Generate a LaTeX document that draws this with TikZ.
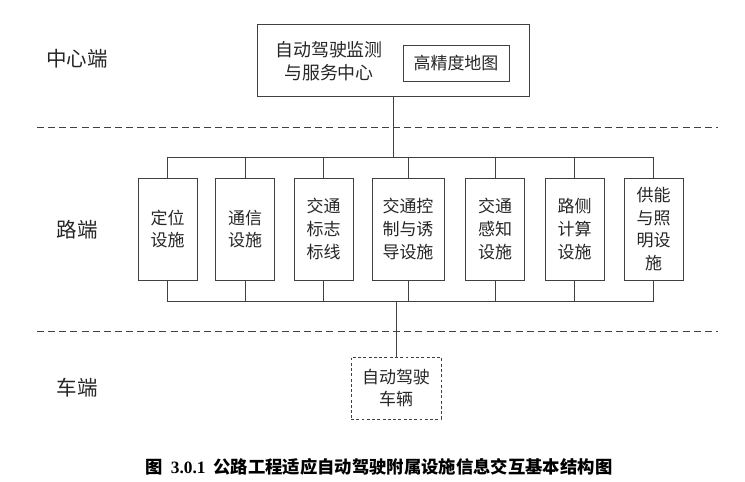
\documentclass[tikz,border=0pt]{standalone}
\usepackage{fontspec}
\setmainfont{Noto Sans CJK SC}
\newfontfamily\numfont{Liberation Serif}
\usepackage{tikz}

\tikzset{
	box/.style={draw=black!75, line width=0.8pt, inner sep=0pt, align=center,
		minimum width=1.77cm, minimum height=3.06cm},
	link/.style={draw=black!75, line width=0.8pt},
	sepline/.style={draw=black!75, line width=0.8pt, dash pattern=on 6pt off 3.5pt},
	tag/.style={font=\fontsize{17.5}{20}\selectfont}
}

\begin{document}
\begin{tikzpicture}[x=0.03cm, y=-0.03cm, every node/.style={text=black!85, align=center, font=\fontsize{14.5}{19.5}\selectfont}]
		\useasboundingbox (0,0) rectangle (745,482);

		% levels
		\node[tag] (L1) at (77,59) {中心端};
		\node[tag] (L2) at (77,230) {路端};
		\node[tag] (L3) at (77,388) {车端};

		\coordinate (S1a) at (37,127);
		\coordinate (S1b) at (718,127);
		\coordinate (S2a) at (37,331);
		\coordinate (S2b) at (718,331);
		\draw[sepline] (S1a) -- (S1b);
		\draw[sepline] (S2a) -- (S2b);

		% center
		\node[box, minimum width=8.16cm, minimum height=2.16cm] (hub) at (393,60) {};
		\node[font=\fontsize{15.3}{20}\selectfont] (hubtxt) at (329,61) {自动驾驶监测\\与服务中心};
		\node[box, minimum width=3.18cm, minimum height=1.08cm] (map) at (456,63) {高精度地图};

		% road side
		\node[box] (R1) at (167.5,229) {定位\\设施};
		\node[box] (R2) at (245,229) {通信\\设施};
		\node[box] (R3) at (323.5,229) {交通\\标志\\标线};
		\node[box, minimum width=2.16cm] (R4) at (408,229) {交通控\\制与诱\\导设施};
		\node[box] (R5) at (495,229) {交通\\感知\\设施};
		\node[box] (R6) at (574.5,229) {路侧\\计算\\设施};
		\node[box] (R7) at (653.5,229) {供能\\与照\\明设\\施};

		\coordinate (TJ) at (393,157);
		\coordinate (BJ) at (396,301);

		\draw[link] (hub.south) -- (TJ);
		\draw[link] (R1.north) -- (R1.north |- TJ) -- (R7.north |- TJ) -- (R7.north);
		\draw[link] (R1.south) -- (R1.south |- BJ) -- (R7.south |- BJ) -- (R7.south);
		\foreach \r in {R2,R3,R4,R5,R6} {
			\draw[link] (\r.north) -- (\r.north |- TJ);
			\draw[link] (\r.south) -- (\r.south |- BJ);
		}

		% vehicle
		\node[box, minimum width=2.7cm, minimum height=1.86cm, dash pattern=on 2.5pt off 2pt] (car) at (396,388) {自动驾驶\\车辆};
		\draw[link] (BJ) -- (car.north);

		% caption
		\node[font=\fontsize{14.8}{16}\selectfont\bfseries, text=black] (cap) at (379,467) {图\ \ {\numfont 3.0.1}\ \ 公路工程适应自动驾驶附属设施信息交互基本结构图};
\end{tikzpicture}
\end{document}
